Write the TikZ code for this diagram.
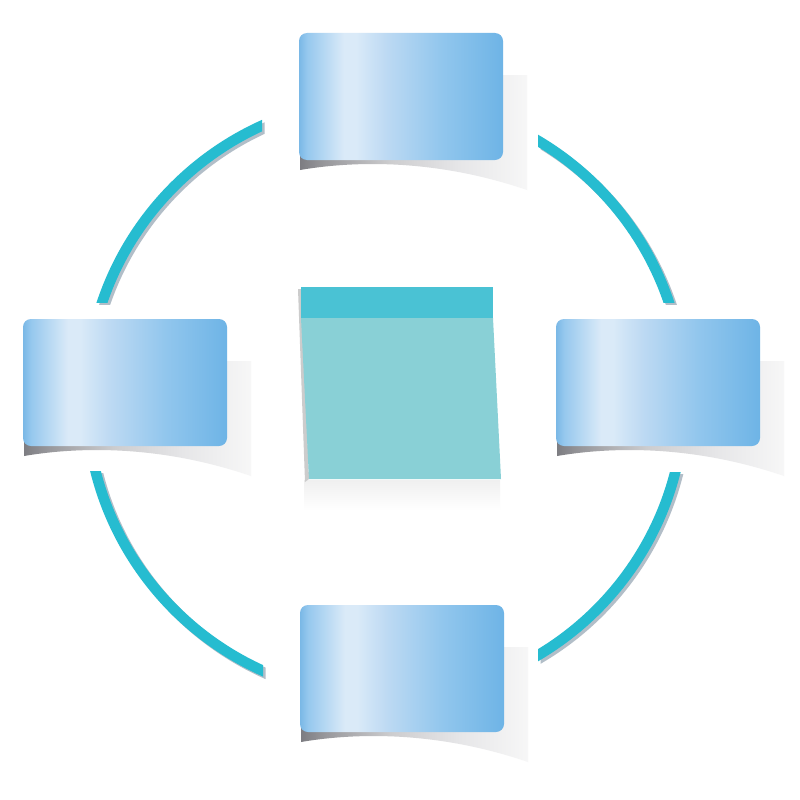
\documentclass[tikz,border=0pt]{standalone}
\usetikzlibrary{calc}
\definecolor{bA}{RGB}{122,184,230}
\definecolor{bB}{RGB}{150,200,238}
\definecolor{bC}{RGB}{218,234,248}
\definecolor{bD}{RGB}{190,218,243}
\definecolor{bE}{RGB}{145,198,237}
\definecolor{bG}{RGB}{110,180,230}
\pgfdeclarehorizontalshading{boxshade}{100bp}{color(0bp)=(bA); color(25bp)=(bA); color(27bp)=(bB); color(36bp)=(bC); color(39bp)=(bC); color(46bp)=(bD); color(60bp)=(bE); color(75bp)=(bG); color(100bp)=(bG)}
\definecolor{sA}{RGB}{125,125,130}
\definecolor{sB}{RGB}{150,150,154}
\definecolor{sC}{RGB}{205,205,207}
\definecolor{sD}{RGB}{230,230,232}
\definecolor{sE}{RGB}{247,247,247}
\pgfdeclarehorizontalshading{shadowshade}{100bp}{color(0bp)=(sA); color(25bp)=(sA); color(30bp)=(sB); color(45bp)=(sC); color(60bp)=(sD); color(75bp)=(sE); color(100bp)=(sE)}
\definecolor{ringteal}{RGB}{38,188,208}
\definecolor{ringgrey}{RGB}{178,190,200}
\definecolor{notestrip}{RGB}{74,194,212}
\definecolor{notebody}{RGB}{137,208,214}
\tikzset{
  bluebox/.style={minimum width=204pt, minimum height=127pt, rounded corners=8pt, shading=boxshade, inner sep=0pt, outer sep=0pt},
  ringline/.style={draw=ringteal, line width=10.5pt},
  ringshadowline/.style={draw=ringgrey, line width=10.5pt},
}
\newcommand\boxshadow[1]{%
  \shade[shading=shadowshade] ($(#1.south west)+(1,-8)$) -- ($(#1.south west)+(1,10)$)
    .. controls ($(#1.south west)+(60,0)$) and ($(#1.south west)+(140,0)$) .. ($(#1.south east)+(24,30)$)
    -- ($(#1.north east)+(24,42)$) -- ($(#1.north east)+(-10,42)$) -- cycle;}
\newcommand\ringpart[4]{%
  \begin{scope}[shift={(2.5,2.5)}]
    \clip (#1,#2) rectangle (#3,#4);
    \draw[ringshadowline] (385.5,398) circle[radius=299pt];
  \end{scope}
  \begin{scope}
    \clip (#1,#2) rectangle (#3,#4);
    \draw[ringline] (385.5,398) circle[radius=299pt];
  \end{scope}}
\begin{document}
\begin{tikzpicture}[x=1pt,y=-1pt]
\fill[white] (0,0) rectangle (800,800);
\useasboundingbox (0,0) rectangle (800,800);
% ring arcs
\ringpart{0}{0}{262}{302}
\ringpart{538}{0}{800}{302}
\ringpart{0}{471}{263}{800}
\ringpart{538}{472}{800}{800}
% boxes with their shadows
\path (299,33) coordinate (pT) (23,319) coordinate (pL) (556,319) coordinate (pR) (300,605) coordinate (pB);
\foreach \n in {T,L,R,B}{
  \path (p\n) node[minimum width=204pt, minimum height=127pt, inner sep=0pt, outer sep=0pt, anchor=north west] (g\n) {};
  \boxshadow{g\n}
  \node[bluebox, anchor=north west] (box\n) at (p\n) {};
}
% central note
\coordinate (nA) at (301,287);
\coordinate (nB) at (493,318);
\shade[top color=gray!12, bottom color=white] (304,480) rectangle (500,510);
\fill[gray!40] (298,289) -- (302,289) -- (309,479) -- (305,482) -- cycle;
\fill[notebody] (301,318) -- (493,318) -- (501,479) -- (309,479) -- cycle;
\fill[notestrip] (nA) rectangle (nB);
\end{tikzpicture}
\end{document}
